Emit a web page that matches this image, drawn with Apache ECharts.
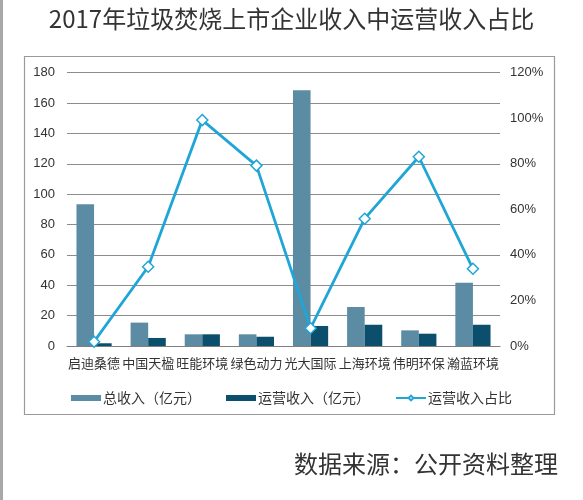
<!DOCTYPE html>
<html><head><meta charset="utf-8">
<script src="https://cdn.jsdelivr.net/npm/echarts@6/dist/echarts.min.js"></script>
<style>html,body{margin:0;padding:0;background:#fff}#c{width:583px;height:500px}</style>
</head><body><div id="c"></div>
<script>
const categories = ['启迪桑德','中国天楹','旺能环境','绿色动力','光大国际','上海环境','伟明环保','瀚蓝环境'];
const totalRevenue = [93.3, 15.4, 7.7, 7.7, 168.5, 25.7, 10.3, 41.7];
const operatingRevenue = [1.8, 5.3, 7.7, 6.1, 13.2, 14.0, 8.1, 14.0];
const operatingShare = [1.9, 34.8, 99.2, 79.2, 7.8, 55.9, 83.1, 33.9];
const leftTicks = [0, 180, 20];
const rightTicks = [0, 120, 20];

const FONT = 'Liberation Sans, Arial, Noto Sans CJK SC, sans-serif';
const CJK = 'Noto Sans CJK SC, sans-serif';
const chart = echarts.init(document.getElementById('c'), null, {renderer: 'canvas'});
chart.setOption({
  backgroundColor: '#fff',
  animation: false,
  title: [{
    text: '2017年垃圾焚烧上市企业收入中运营收入占比',
    left: 'center', top: 2,
    textStyle: {fontFamily: CJK, fontSize: 24, fontWeight: 'normal', color: '#333'}
  }, {
    text: '数据来源：公开资料整理',
    right: 20, top: 447,
    textStyle: {fontFamily: CJK, fontSize: 24, fontWeight: 'normal', color: '#333'}
  }],
  graphic: [
    {type: 'rect', shape: {x: 24.5, y: 56.5, width: 530, height: 358}, style: {fill: 'none', stroke: '#9a9a9a', lineWidth: 1.2}, z: -1},
    {type: 'rect', shape: {x: 0, y: 0, width: 3, height: 500}, style: {fill: '#a8a8a8'}, z: -1}
  ],
  legend: {
    left: 66, top: 386,
    itemGap: 25,
    itemWidth: 30, itemHeight: 6,
    textStyle: {fontFamily: CJK, fontSize: 14, color: '#333', padding: [0, 0, 0, -3]},
    data: [
      {name: '总收入（亿元）', icon: 'rect'},
      {name: '运营收入（亿元）', icon: 'rect'},
      {name: '运营收入占比'}
    ]
  },
  grid: {left: 67, right: 83, top: 72.7, bottom: 154},
  xAxis: {
    type: 'category', data: categories,
    axisLine: {lineStyle: {color: '#7f7f7f', width: 1.2}},
    axisTick: {show: false},
    axisLabel: {interval: 0, fontFamily: CJK, fontSize: 13, color: '#333', margin: 11}
  },
  yAxis: [{
    type: 'value', min: leftTicks[0], max: leftTicks[1], interval: leftTicks[2],
    axisLine: {show: false}, axisTick: {show: false},
    axisLabel: {fontFamily: FONT, fontSize: 13, color: '#333', margin: 12},
    splitLine: {lineStyle: {color: '#8c8c8c', width: 1}}
  }, {
    type: 'value', min: rightTicks[0], max: rightTicks[1], interval: rightTicks[2],
    axisLine: {show: false}, axisTick: {show: false},
    axisLabel: {fontFamily: FONT, fontSize: 13, color: '#333', margin: 10, formatter: '{value}%'},
    splitLine: {show: false}
  }],
  series: [{
    name: '总收入（亿元）', type: 'bar', data: totalRevenue,
    barGap: '0%', barCategoryGap: '35%',
    itemStyle: {color: '#5b8ca4'}
  }, {
    name: '运营收入（亿元）', type: 'bar', data: operatingRevenue,
    itemStyle: {color: '#0c4f6d'}
  }, {
    name: '运营收入占比', type: 'line', yAxisIndex: 1, data: operatingShare,
    symbol: 'diamond', symbolSize: 11,
    lineStyle: {color: '#1fa5d6', width: 2.8},
    itemStyle: {color: '#fff', borderColor: '#1fa5d6', borderWidth: 1.5},
    z: 5
  }]
});
</script></body></html>
